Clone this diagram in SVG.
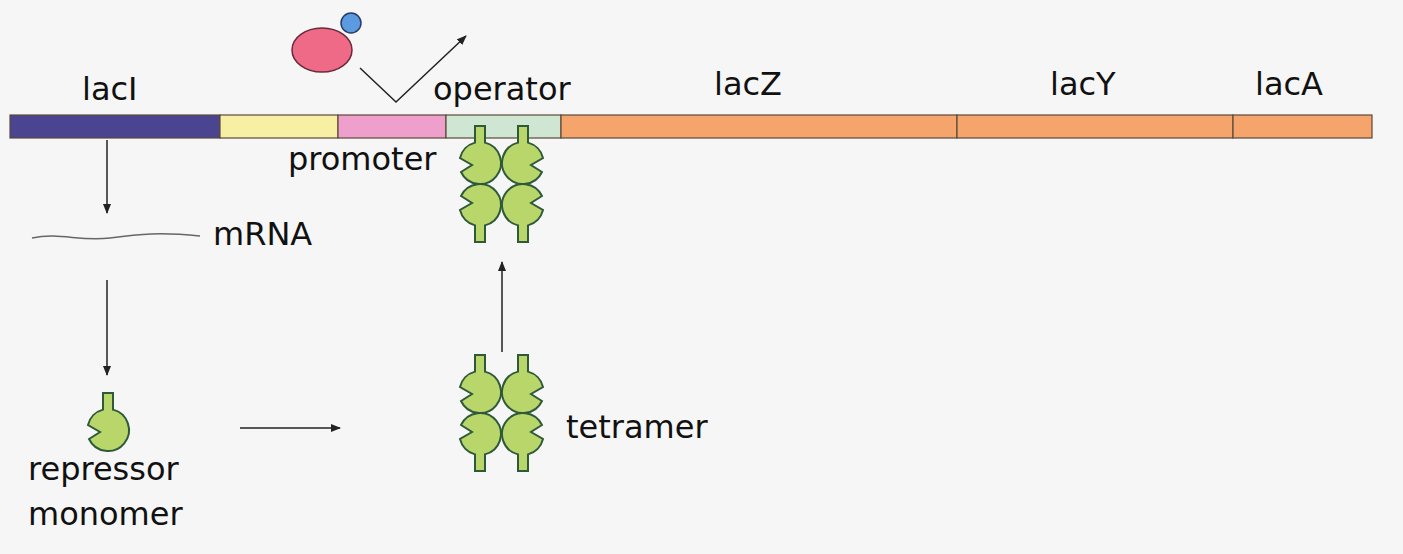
<svg xmlns="http://www.w3.org/2000/svg" width="1403" height="554" viewBox="0 0 1403 554">
<style>
text{font-family:"DejaVu Sans","Liberation Sans",sans-serif;font-size:32px;fill:#111}
.seg{stroke:#5a4a3a;stroke-width:1.2}
.ln{stroke:#222;stroke-width:1.5;fill:none}
.mono{fill:#b9d66a;stroke:#2f5a3a;stroke-width:2}
</style>
<defs>
<marker id="ah" markerWidth="10" markerHeight="8" refX="9" refY="4" orient="auto" markerUnits="userSpaceOnUse"><path d="M0,0 L10,4 L0,8 Z" fill="#222"/></marker>
<path id="m" d="M -5,-37 L 5,-37 L 5,-20.4 A21,21 0 1 1 -19,9 L -8,2 L -20,-5 A21,21 0 0 1 -5,-20.4 Z"/>
<g id="tet">
<use href="#m" class="mono" transform="translate(480,-21)"/>
<use href="#m" class="mono" transform="translate(523,-21) scale(-1,1)"/>
<use href="#m" class="mono" transform="translate(480,21) scale(1,-1)"/>
<use href="#m" class="mono" transform="translate(523,21) scale(-1,-1)"/>
</g>
</defs>
<rect width="1403" height="554" fill="#f6f6f6"/>
<g id="gene">
<rect class="seg" x="10" y="115" width="210" height="23" fill="#4b4490"/>
<rect class="seg" x="220" y="115" width="118" height="23" fill="#f7f0a4"/>
<rect class="seg" x="338" y="115" width="108" height="23" fill="#ee9fcb"/>
<rect class="seg" x="446" y="115" width="115" height="23" fill="#cfe6d3"/>
<rect class="seg" x="561" y="115" width="396" height="23" fill="#f5a46c"/>
<rect class="seg" x="957" y="115" width="276" height="23" fill="#f5a46c"/>
<rect class="seg" x="1233" y="115" width="139" height="23" fill="#f5a46c"/>
</g>
<g id="polymerase">
<ellipse cx="322" cy="50" rx="30" ry="22" fill="#ee6a86" stroke="#6a2a3a" stroke-width="1.5"/>
<circle cx="351" cy="23" r="10" fill="#5b9be0" stroke="#2a3a6a" stroke-width="1.5"/>
</g>
<g id="connectors">
<polyline class="ln" points="360,68 396,102 466,36" marker-end="url(#ah)"/>
<line class="ln" x1="107" y1="140" x2="107" y2="213" marker-end="url(#ah)"/>
<path d="M32,238 C60,232 80,242 110,238 S160,232 200,236" stroke="#666" stroke-width="1.5" fill="none"/>
<line class="ln" x1="107" y1="280" x2="107" y2="375" marker-end="url(#ah)"/>
<line class="ln" x1="240" y1="428" x2="340" y2="428" marker-end="url(#ah)"/>
<line class="ln" x1="502" y1="352" x2="502" y2="262" marker-end="url(#ah)"/>
</g>
<g id="tetramer-bound"><use href="#tet" transform="translate(0,184)"/></g>
<g id="tetramer"><use href="#tet" transform="translate(0,413)"/></g>
<g id="monomer"><use href="#m" class="mono" transform="translate(108,430)"/></g>
<g id="labels">
<text x="82" y="100">lacI</text>
<text x="433" y="100">operator</text>
<text x="714" y="95">lacZ</text>
<text x="1050" y="95">lacY</text>
<text x="1255" y="95">lacA</text>
<text x="288" y="170">promoter</text>
<text x="213" y="245">mRNA</text>
<text x="566" y="438">tetramer</text>
<text x="28" y="480">repressor</text>
<text x="28" y="525">monomer</text>
</g>
</svg>
